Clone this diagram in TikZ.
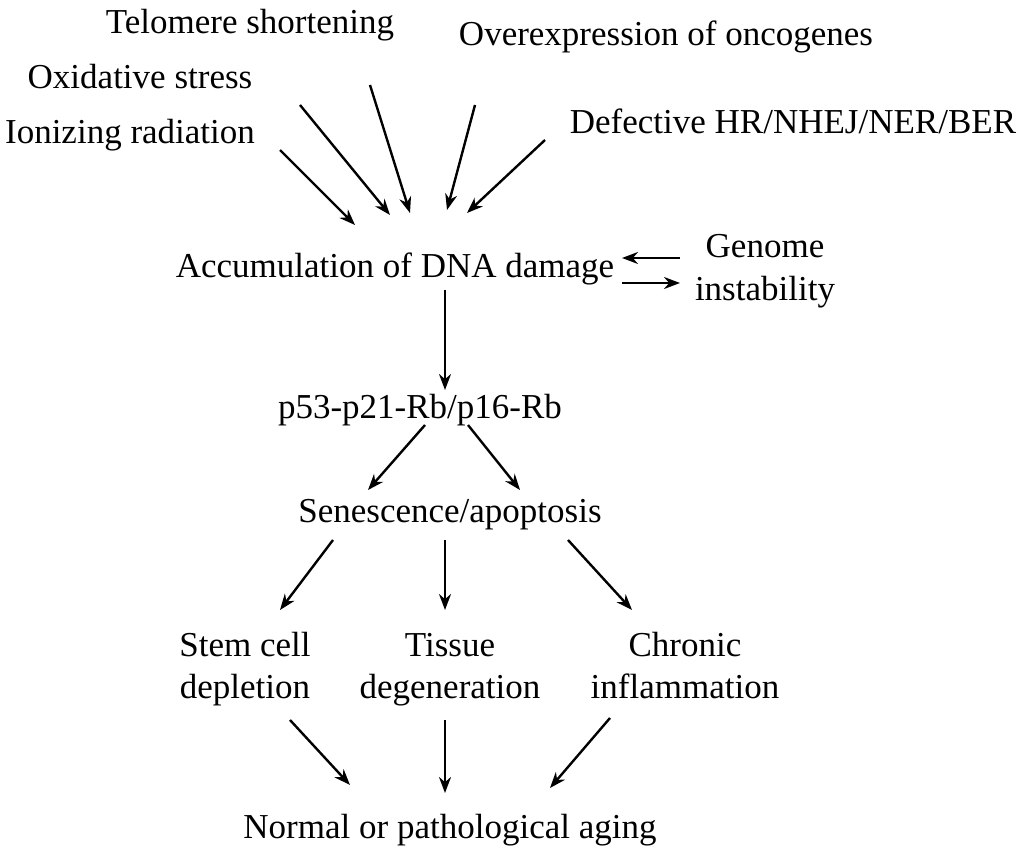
\documentclass[tikz,border=0pt]{standalone}
\usepackage{fontspec}
\setmainfont{Liberation Serif}
\usetikzlibrary{arrows.meta}
\begin{document}
\begin{tikzpicture}[x=1pt,y=-1pt,
  lbl/.style={inner sep=0pt,font=\fontsize{35}{42}\selectfont,align=center,anchor=base},
  ar/.style={line width=2.4pt,-{Stealth[length=16pt,width=12pt]}}]
\useasboundingbox (0,0) rectangle (1024,858);
\node[lbl] (tel) at (250,34) {Telomere shortening};
\node[lbl] (onc) at (666,46) {Overexpression of oncogenes};
\node[lbl] (oxi) at (140,89) {Oxidative stress};
\node[lbl] (ion) at (130,144) {Ionizing radiation};
\node[lbl] (def) at (793,134) {Defective HR/NHEJ/NER/BER};
\node[lbl] (dna) at (395,278) {Accumulation of DNA damage};
\node[lbl] (gen) at (765,300) {Genome\\instability};
\node[lbl] (p53) at (420,418) {p53-p21-Rb/p16-Rb};
\node[lbl] (sen) at (450,522) {Senescence/apoptosis};
\node[lbl] (stem) at (245,698) {Stem cell\\depletion};
\node[lbl] (tis) at (450,698) {Tissue\\degeneration};
\node[lbl] (chr) at (685,698) {Chronic\\inflammation};
\node[lbl] (age) at (450,838) {Normal or pathological aging};
% fan-in
\coordinate (a1) at (280,150); \coordinate (b1) at (355,225);
\coordinate (a2) at (300,105); \coordinate (b2) at (390,215);
\coordinate (a3) at (370,85);  \coordinate (b3) at (410,213);
\coordinate (a4) at (475,105); \coordinate (b4) at (447,210);
\coordinate (a5) at (545,140); \coordinate (b5) at (467,213);
\draw[ar] (a1) -- (b1);
\draw[ar] (a2) -- (b2);
\draw[ar] (a3) -- (b3);
\draw[ar] (a4) -- (b4);
\draw[ar] (a5) -- (b5);
% genome
\coordinate (g1) at (680,258); \coordinate (g2) at (622,258);
\coordinate (g3) at (622,283); \coordinate (g4) at (680,283);
\draw[ar] (g1) -- (g2);
\draw[ar] (g3) -- (g4);
% chain
\draw[ar] (445,290) -- (445,390);
\draw[ar] (425,425) -- (368,490);
\draw[ar] (468,425) -- (520,490);
\draw[ar] (333,540) -- (280,610);
\draw[ar] (445,540) -- (445,610);
\draw[ar] (568,540) -- (632,610);
\draw[ar] (290,720) -- (350,785);
\draw[ar] (445,720) -- (445,793);
\draw[ar] (610,718) -- (550,788);
\end{tikzpicture}
\end{document}
